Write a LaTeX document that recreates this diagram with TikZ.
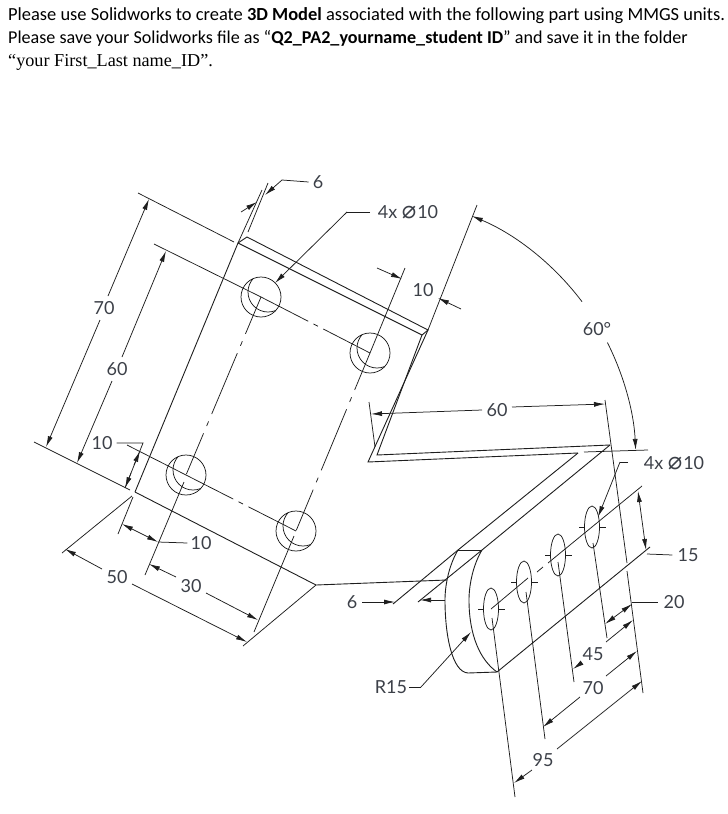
\documentclass[tikz,border=0pt]{standalone}
\usepackage{fontspec}
\setmainfont{Carlito}
\newfontfamily\serifhead{Liberation Serif}
\newfontfamily\dimfont{Lato}
\newfontfamily\symfont{DejaVu Sans}
\usetikzlibrary{arrows.meta,calc}
\definecolor{ink}{HTML}{1E1E1E}
\definecolor{labelink}{HTML}{3C4048}
\tikzset{
  headline/.style={anchor=base west,inner sep=0pt,text=black,font=\fontsize{18.45}{20}\selectfont},
  dimlabel/.style={inner sep=0pt,text=labelink,font=\dimfont\fontsize{18}{20}\selectfont},
  part/.style={draw=ink,line width=0.9pt},
  thin line/.style={draw=ink,line width=0.75pt},
  dimarrow/.style={thin line,-{Latex[length=11pt,width=5pt]}},
  twoarrow/.style={thin line,{Latex[length=11pt,width=5pt]}-{Latex[length=11pt,width=5pt]}},
  chain/.style={thin line,dash pattern=on 53pt off 6pt on 5pt off 6pt on 60pt},
  longchain/.style={thin line,dash pattern=on 40pt off 8pt on 5pt off 8pt on 66pt off 8pt on 5pt off 8pt on 44pt},
}
\newcommand{\hole}[1]{%
  \begin{scope}\clip (#1) circle[radius=20];
    \draw[thin line] ($(#1)+(7,-5)$) circle[radius=20];
  \end{scope}
  \draw[thin line] (#1) circle[radius=20];}
\newcommand{\diam}{{\symfont\fontsize{24}{20}\selectfont ⌀}}
\begin{document}
\begin{tikzpicture}[x=1pt,y=-1pt]
\useasboundingbox (0,0) rectangle (728,814);
% header
\node[headline] (h1) at (8,20) {Please use Solidworks to create \textbf{3D Model} associated with the following part using MMGS units.};
\node[headline,font=\fontsize{18.1}{20}\selectfont] (h2) at (8,43) {Please save your Solidworks file as “\textbf{Q2\_PA2\_yourname\_student ID}” and save it in the folder};
\node[headline,font=\serifhead\fontsize{18.2}{20}\selectfont] (h3) at (8,66.5) {“your First\_Last name\_ID”.};
% plate corners
\coordinate (pTL) at (247,237); \coordinate (pTR) at (428,330);
\coordinate (qTL) at (238,243); \coordinate (qTR) at (422,335);
\coordinate (pBL) at (135,492); \coordinate (pBR) at (316,585);
\coordinate (fO) at (368,462); \coordinate (fI) at (377,455);
\coordinate (fE) at (610,445); \coordinate (fM) at (578,453);
% hole centres
\coordinate (A) at (261,297); \coordinate (B) at (370,353);
\coordinate (C) at (186,475); \coordinate (D) at (296,531);
\hole{A}\hole{B}\hole{C}\hole{D}
% plate
\draw[part] (pBL) -- (qTL) -- (pTL) -- (pTR) -- (fO) -- (fM);
\draw[part] (qTL) -- (qTR) -- (pTR);
\draw[part] (qTR) -- (fI) -- (fE);
\draw[part] (pBL) -- (pBR);
% centre lines
\draw[chain] (A) -- (B);
\draw[chain] (C) -- (D);
\draw[longchain] (A) -- (C);
\draw[longchain] (B) -- (D);
% foot
\coordinate (cyL) at (458,550); \coordinate (cyR) at (482,550);
\coordinate (cbL) at (468,673); \coordinate (cbR) at (497,672);
\coordinate (x6a) at (393,604); \coordinate (x6b) at (418,602);
\coordinate (arcL) at (445,600);
\draw[part] (fM) -- (cyL) -- (x6a);
\draw[part] (fE) -- (cyR) -- (x6b);
\draw[part] (cyL) -- (cyR);
\draw[part] (cyL) .. controls (449,565) and (445,585) .. (arcL) .. controls (445,635) and (452,672) .. (cbL) -- (cbR);
\draw[part] (cyR) .. controls (473,565) and (469,585) .. (469,600) .. controls (469,635) and (480,660) .. (cbR);
\coordinate (cbX) at (650,547);
\draw[part] (cbR) -- (cbX);
\draw[part] (pBR) -- (447,580);
% foot holes
\coordinate (h1c) at (491,609); \coordinate (h2c) at (524,582);
\coordinate (h3c) at (558,555); \coordinate (h4c) at (592,527);
\foreach \n in {h1c,h2c,h3c,h4c}{
  \draw[thin line] (\n) ellipse[x radius=7.5,y radius=21];
  \draw[thin line] ($(\n)+(-13,0)$) -- ($(\n)+(-8,0)$);
  \draw[thin line] ($(\n)+(8,0)$) -- ($(\n)+(14,0)$);
}
\coordinate (clE) at (642,486);
\draw[thin line] (h1c) -- (528,578);
\draw[thin line] (537,572) -- (543,567);
\draw[thin line] (548,563) -- (clE);
% foot extension lines
\coordinate (e1) at (515,797); \coordinate (e2) at (545,739);
\coordinate (e3) at (574,682); \coordinate (e4) at (607,638);
\draw[thin line] (492,618) -- (e1);
\draw[thin line] (526,592) -- (e2);
\draw[thin line] (558,562) -- (e3);
\draw[thin line] (593,543) -- (e4);
\coordinate (rTop) at (605,400); \coordinate (rGap1) at (627,563);
\coordinate (rGap2) at (627,571); \coordinate (rBot) at (643,693);
\draw[thin line] (rTop) -- (rGap1);
\draw[thin line] (rGap2) -- (rBot);
% left dims
\draw[thin line] (138,193) -- (234,242);
\draw[thin line] (34,442) -- (130,490);
\draw[thin line] (154,244) -- (A);
\draw[thin line] (127,445) -- (C);
\node[dimlabel] (l70) at (104,308) {70};
\draw[dimarrow] (108,296) -- (149,199);
\draw[dimarrow] (100,320) -- (46,447);
\node[dimlabel] (l60) at (117,369) {60};
\draw[dimarrow] (122,357) -- (166,251);
\draw[dimarrow] (112,381) -- (77,463);
\node[dimlabel] (l10a) at (102,443) {10};
\coordinate (k10) at (143,443);
\draw[thin line] ($(l10a.east)+(4,0)$) -- (k10) -- (125,488);
\draw[dimarrow] (131,473) -- (125,488);
\draw[dimarrow] (134,465) -- (140,451);
% bottom dims
\draw[thin line] (133,497) -- (118,534);
\draw[thin line] (184,482) -- (145,575);
\draw[thin line] (294,536) -- (254,632);
\draw[thin line] (132,496) -- (62,553);
\draw[thin line] (pBR) -- (243,646);
\node[dimlabel] (l50) at (117,577) {50};
\draw[dimarrow] (102,569) -- (65,549);
\draw[dimarrow] (132,584) -- (247,642);
\node[dimlabel] (l30) at (191,586) {30};
\draw[dimarrow] (176,577) -- (149,564);
\draw[dimarrow] (206,593) -- (258,620);
\node[dimlabel] (l10b) at (201,543) {10};
\coordinate (t10) at (158,542);
\draw[twoarrow] (122,524) -- (t10);
\draw[thin line] (t10) -- ($(l10b.west)+(-3,0)$);
% top dims
\draw[thin line] (qTL) -- (262,190);
\draw[thin line] (248,232) -- (268,183);
\node[dimlabel] (l6a) at (318,182) {6};
\coordinate (k6) at (282,180);
\draw[thin line] ($(l6a.west)+(-4,0)$) -- (k6);
\draw[dimarrow] (k6) -- (265,195);
\draw[dimarrow] (241,212) -- (257,202);
\node[dimlabel] (l4a) at (408,212) {4x \diam\hspace{1pt}10};
\coordinate (k4a) at (347,212);
\draw[thin line] (370,212) -- (k4a);
\draw[dimarrow] (k4a) -- (275,283);
\draw[thin line] (B) -- (405,268);
\draw[thin line] (pTR) -- (477,205);
\node[dimlabel] (l10c) at (423,290) {10};
\draw[dimarrow] (377,268) -- (402,279);
\draw[dimarrow] (461,309) -- (438,298);
% 60 dims
\draw[thin line] (369,402) -- (375,447);
\node[dimlabel] (l60b) at (497,410) {60};
\draw[dimarrow] (482,410) -- (371,414);
\draw[dimarrow] (512,407) -- (605,404);
% angle
\coordinate (ang) at (368,463);
\draw[thin line] (584,452) -- (648,450);
\node[dimlabel] (l60d) at (597,329) {60°};
\draw[thin line,{Latex[length=11pt,width=5pt]}-] ([shift={(-67.2:268)}]ang) arc[start angle=-67.2,end angle=-37,radius=268];
\draw[dimarrow] ([shift={(-26.7:268)}]ang) arc[start angle=-26.7,end angle=-2.8,radius=268];
% 4x right
\node[dimlabel] (l4b) at (674,463) {4x \diam\hspace{1pt}10};
\coordinate (k4b) at (620,462);
\draw[thin line] (628,462) -- (k4b);
\draw[dimarrow] (k4b) -- (598,517);
% 15 and 20
\node[dimlabel] (l15) at (688,555) {15};
\draw[twoarrow] (638,491) -- (646,550);
\draw[thin line] (647,554) -- ($(l15.west)+(-5,0)$);
\node[dimlabel] (l20) at (674,602) {20};
\draw[twoarrow] (605,624) -- (632,604);
\draw[thin line] (632,602) -- ($(l20.west)+(-5,0)$);
% 45 70 95
\node[dimlabel] (l45) at (593,654) {45};
\draw[dimarrow] (580,664) -- (573,669);
\draw[dimarrow] (606,642) -- (633,620);
\node[dimlabel] (l70b) at (593,688) {70};
\draw[dimarrow] (580,697) -- (543,727);
\draw[dimarrow] (606,676) -- (637,651);
\node[dimlabel] (l95) at (543,760) {95};
\draw[dimarrow] (532,770) -- (514,783);
\draw[dimarrow] (557,749) -- (642,681);
% 6 bottom
\node[dimlabel] (l6b) at (352,602) {6};
\draw[dimarrow] (362,602) -- (395,602);
\draw[dimarrow] (445,600) -- (420,600);
% R15
\node[dimlabel] (lR) at (391,687) {R15};
\coordinate (kR) at (421,687);
\draw[thin line] ($(lR.east)+(2,0)$) -- (kR);
\draw[dimarrow] (kR) -- (471,632);
\end{tikzpicture}
\end{document}
